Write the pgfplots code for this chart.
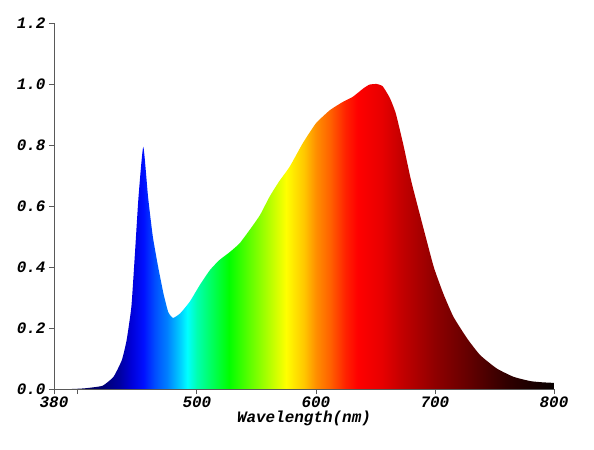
\documentclass[border=0pt]{standalone}
\usepackage{fontspec}
\setmainfont{Liberation Sans}
\setmonofont{Liberation Mono}
\usepackage{pgfplots}
\pgfplotsset{compat=1.18}
\usepackage{pgfplotstable}

% horizontal spectrum shading: 25bp -> 380 nm, 75bp -> 800 nm
\pgfdeclarehorizontalshading{spectrum}{100bp}{%
rgb(0bp)=(0,0,0.25);
rgb(25bp)=(0,0,0.25);
rgb(29.76bp)=(0,0,0.44);
rgb(31.55bp)=(0,0,0.63);
rgb(32.74bp)=(0,0,0.85);
rgb(33.93bp)=(0,0.06,1);
rgb(35.12bp)=(0,0.31,1);
rgb(36.31bp)=(0,0.5,1);
rgb(37.5bp)=(0,0.78,1);
rgb(38.33bp)=(0,1,1);
rgb(39.29bp)=(0,1,0.69);
rgb(40.71bp)=(0,1,0.38);
rgb(42.5bp)=(0,1,0);
rgb(44.64bp)=(0.38,1,0);
rgb(46.43bp)=(0.69,1,0);
rgb(48.21bp)=(1,1,0);
rgb(50bp)=(1,0.78,0);
rgb(51.19bp)=(1,0.56,0);
rgb(52.62bp)=(1,0.38,0);
rgb(54.17bp)=(1,0.13,0);
rgb(55.36bp)=(1,0,0);
rgb(57.74bp)=(0.91,0,0);
rgb(59.52bp)=(0.78,0,0);
rgb(63.10bp)=(0.56,0,0);
rgb(66.67bp)=(0.38,0,0);
rgb(70.24bp)=(0.19,0,0);
rgb(75bp)=(0.03,0,0);
rgb(100bp)=(0.03,0,0)}

\pgfplotstableread{
nm val
380 0
395 0
405 0.002
412 0.005
421 0.011
430 0.040
437 0.095
441 0.160
445 0.270
448 0.445
451 0.630
455 0.794
459 0.630
463 0.500
467.5 0.400
472 0.312
476 0.252
480 0.233
486 0.248
494 0.286
502.5 0.341
511 0.390
519 0.423
528 0.450
536 0.478
545 0.525
553 0.570
561 0.630
569 0.680
578 0.729
589 0.806
600 0.871
612 0.915
623 0.942
631 0.958
640 0.986
645 0.998
651 1.000
656 0.993
662 0.955
667 0.905
673.5 0.800
679 0.700
682 0.652
690 0.532
699 0.400
707 0.313
715.5 0.237
727 0.166
738 0.111
752 0.067
766 0.040
780 0.026
790 0.022
800 0.020
}\spec

\begin{document}
\begin{tikzpicture}
\begin{axis}[
  name=ax,
  scale only axis,
  width=500bp, height=366bp,
  xmin=380, xmax=800, ymin=0, ymax=1.2,
  axis x line*=bottom, axis y line*=left,
  axis line style={-, draw=black!65, line width=0.9pt},
  axis on top,
  xtick={380,400,500,600,700,800},
  xticklabels={380,,500,600,700,800},
  ytick={0,0.2,0.4,0.6,0.8,1.0,1.2},
  yticklabel style={/pgf/number format/.cd, fixed, fixed zerofill, precision=1},
  /pgf/number format/assume math mode=true,
  tick align=outside,
  major tick length=5bp,
  tick style={draw=black!65, line width=0.8pt},
  tick label style={font=\fontsize{16}{17}\selectfont\ttfamily\bfseries\itshape, text=black},
  xticklabel style={yshift=1bp},
  xlabel={Wavelength(nm)},
  xlabel style={font=\fontsize{16}{17}\selectfont\ttfamily\bfseries\itshape, text=black, yshift=3bp},
]
\addplot[draw=none, no markers, smooth, tension=0.3, shade, shading=spectrum] table[x=nm, y=val] {\spec} \closedcycle;
\end{axis}
\path[use as bounding box] ([shift={(-54bp,-61bp)}]ax.south west) rectangle ([shift={(40bp,23bp)}]ax.north east);
\end{tikzpicture}
\end{document}
